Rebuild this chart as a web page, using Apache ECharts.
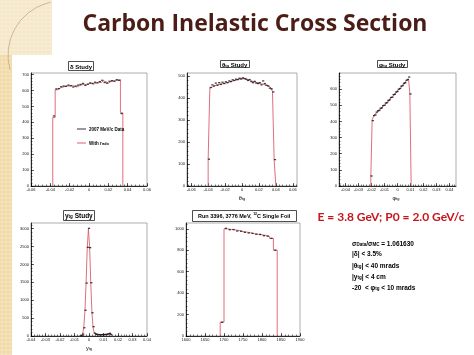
<!DOCTYPE html>
<html><head><meta charset="utf-8">
<script src="https://cdn.jsdelivr.net/npm/echarts@6/dist/echarts.min.js"></script>
<style>html,body{margin:0;padding:0;background:#fff;}#c{width:474px;height:355px;}</style>
</head><body><div id="c"></div>
<script>
// ---------------- data ----------------
const deltaStart = -0.0375, deltaBin = 0.0025;
const deltaMC   = [430, 605,615,620,625,630,628,632,626,622,630,635,640,636,642,645,640,648,652,650,660,655,648,655,660,662,665,668, 460];
const deltaData = [440, 610,612,624,628,626,634,630,622,628,634,638,644,632,640,648,644,652,648,656,664,650,646,658,662,658,668,664, 455];

const thetaStart = -0.04, thetaBin = 0.002;
const thetaMC   = [120, 445,452,458,460,462,463,465,466,468,470,472,474,476,479,481,483,485,487,488,488,487,485,482,480,477,474,472,470,468,466,464,462,460,457,453,448,440,430, 118];
const thetaData = [122, 448,460,455,468,458,470,462,472,466,474,470,478,475,483,480,486,484,490,487,492,489,486,480,484,475,470,476,468,466,470,460,478,466,458,455,445,442,428, 120];

const phiStart = -0.0205, phiBin = 0.001;
const phiMC   = [60, 410,430,445,455,462,470,478,486,494,502,510,518,527,536,545,553,562,570,579,588,597,606,615,624,633,642,651,662,672, 575];
const phiData = [62, 405,436,440,458,466,468,482,484,498,500,514,516,530,534,548,550,566,568,582,586,600,604,618,622,636,640,655,660,675, 570];

const ytgStart = -0.0068, ytgBin = 0.0008;
const ytgMC   = [0,2,15,60,240,700,1500,2470,2990,2520,1520,680,230,90,55,45,40,38,35,35,40,38,42,45,50,60,80,40,0];
const ytgData = [0,4,20,55,230,720,1480,2480,3010,2470,1490,650,260,80,50,48,36,40,30,38,42,35,45,40,55,58,75,45,0];

const runStart = 1690, runBin = 10;
const runMC   = [130, 1000,995,990,985,975,970,965,955,950,945,940,930,910, 800];
const runData = [128, 1005,992,994,980,978,968,962,958,950,948,936,932,912, 802];

const deltaXTicks = [-0.06,-0.04,-0.02,0,0.02,0.04,0.06];
const deltaYTicks = [0,100,200,300,400,500,600,700];
const thetaXTicks = [-0.06,-0.04,-0.02,0,0.02,0.04,0.06];
const thetaYTicks = [0,100,200,300,400,500];
const phiXTicks   = [-0.04,-0.03,-0.02,-0.01,0,0.01,0.02,0.03,0.04];
const phiYTicks   = [0,100,200,300,400,500,600];
const ytgXTicks   = [-0.04,-0.03,-0.02,-0.01,0,0.01,0.02,0.03,0.04];
const ytgYTicks   = [0,500,1000,1500,2000,2500,3000];
const runXTicks   = [1600,1650,1700,1750,1800,1850,1900];
const runYTicks   = [0,200,400,600,800,1000];

// ---------------- layout ----------------
const panels = [
  {d:{start:deltaStart,w:deltaBin,mc:deltaMC,data:deltaData,xt:deltaXTicks,yt:deltaYTicks},
   g:{left:31,top:73,width:116,height:113}, xMin:-0.06, xMax:0.06, yMax:710, xMinor:0.004, yMinor:20},
  {d:{start:thetaStart,w:thetaBin,mc:thetaMC,data:thetaData,xt:thetaXTicks,yt:thetaYTicks},
   g:{left:187,top:73,width:110,height:113}, xMin:-0.065, xMax:0.065, yMax:514, xMinor:0.004, yMinor:20},
  {d:{start:phiStart,w:phiBin,mc:phiMC,data:phiData,xt:phiXTicks,yt:phiYTicks},
   g:{left:339,top:73,width:117,height:113}, xMin:-0.045, xMax:0.045, yMax:700, xMinor:0.002, yMinor:20},
  {d:{start:ytgStart,w:ytgBin,mc:ytgMC,data:ytgData,xt:ytgXTicks,yt:ytgYTicks},
   g:{left:31,top:223,width:116,height:113}, xMin:-0.04, xMax:0.04, yMax:3160, xMinor:0.002, yMinor:100},
  {d:{start:runStart,w:runBin,mc:runMC,data:runData,xt:runXTicks,yt:runYTicks},
   g:{left:186,top:223,width:114,height:113}, xMin:1600, xMax:1900, yMax:1055, xMinor:10, yMinor:40}
];

function histPoints(start, w, vals){
  const p = [[start, 0]];
  vals.forEach((v,i)=>p.push([start + i*w, v]));
  p.push([start + vals.length*w, 0]);
  return p;
}
function dataPoints(start, w, vals){
  return vals.map((v,i)=>[start + (i+0.5)*w, v]).filter(d=>d[1] > 0);
}
function minors(min, max, step){
  const a = [];
  for (let k = Math.ceil(min/step - 1e-9); k*step <= max + 1e-9; k++) a.push(+(k*step).toFixed(6));
  return a;
}

const FONT = 'Liberation Sans';
const RED = '#d9606c';
const grid = [], xAxis = [], yAxis = [], series = [];
panels.forEach((p, i) => {
  grid.push(Object.assign({show:true, borderColor:'#8a8a8a', borderWidth:0.7}, p.g));
  const lbl = {show:true, fontSize:4, color:'#111', fontFamily:FONT, margin:2, hideOverlap:false, showMinLabel:true, showMaxLabel:true, formatter:v=>String(v)};
  xAxis.push({type:'value', gridIndex:i, min:p.xMin, max:p.xMax, position:'bottom',
    axisLine:{show:true, onZero:false, lineStyle:{color:'#000', width:0.8}},
    axisTick:{show:true, inside:true, length:3, customValues:p.d.xt, lineStyle:{color:'#000', width:0.6}},
    axisLabel:Object.assign({customValues:p.d.xt}, lbl), splitLine:{show:false}});
  xAxis.push({type:'value', gridIndex:i, min:p.xMin, max:p.xMax, position:'bottom',
    axisLine:{show:false, onZero:false}, axisLabel:{show:false}, splitLine:{show:false},
    axisTick:{show:true, inside:true, length:1.5, customValues:minors(p.xMin,p.xMax,p.xMinor), lineStyle:{color:'#000', width:0.5}}});
  yAxis.push({type:'value', gridIndex:i, min:0, max:p.yMax, position:'left',
    axisLine:{show:true, onZero:false, lineStyle:{color:'#000', width:0.8}},
    axisTick:{show:true, inside:true, length:3, customValues:p.d.yt, lineStyle:{color:'#000', width:0.6}},
    axisLabel:Object.assign({customValues:p.d.yt}, lbl), splitLine:{show:false}});
  yAxis.push({type:'value', gridIndex:i, min:0, max:p.yMax, position:'left',
    axisLine:{show:false, onZero:false}, axisLabel:{show:false}, splitLine:{show:false},
    axisTick:{show:true, inside:true, length:1.5, customValues:minors(0,p.yMax,p.yMinor), lineStyle:{color:'#000', width:0.5}}});
  series.push({type:'line', name: i===0 ? 'With r' : 'mc'+i, xAxisIndex:2*i, yAxisIndex:2*i,
    data:histPoints(p.d.start, p.d.w, p.d.mc), step:'end', symbol:'none', silent:true,
    lineStyle:{color:RED, width:0.9}, itemStyle:{color:RED}, z:2});
  series.push({type:'scatter', name: i===0 ? '2007 MeV/c Data' : 'data'+i, xAxisIndex:2*i, yAxisIndex:2*i,
    data:dataPoints(p.d.start, p.d.w, p.d.data), symbol:'rect', symbolSize:[2.2,1.3], silent:true,
    itemStyle:{color:'#111'}, z:3});
});

const padTitle = (text, left, top, fs, pad) => ({
  text, left, top, padding:pad, backgroundColor:'#fff', borderColor:'#222', borderWidth:0.8,
  textStyle:{fontSize:fs, fontWeight:'bold', fontFamily:FONT, color:'#000', lineHeight:fs+2,
    rich:{m:{fontSize:fs, fontWeight:'bold', fontFamily:FONT, color:'#000', lineHeight:fs+2, verticalAlign:'bottom'},
          s:{fontSize:fs-2, fontWeight:'bold', fontFamily:FONT, color:'#000', verticalAlign:'bottom', lineHeight:fs+2, padding:[2,0,0,0]},
          p:{fontSize:fs-2, fontWeight:'bold', fontFamily:FONT, color:'#000', verticalAlign:'top', lineHeight:fs+2}}}
});

// background decoration
const deco = [];
deco.push({type:'rect', shape:{x:0,y:0,width:12,height:355}, style:{fill:'#f1d9a6'}, silent:true, z:-10});
deco.push({type:'rect', shape:{x:0,y:0,width:52,height:55}, style:{fill:'#f5e6c6'}, silent:true, z:-10});
for (let y = 2; y < 355; y += 4) deco.push({type:'line', shape:{x1:0,y1:y,x2:(y<55?52:12),y2:y}, style:{stroke:'rgba(255,255,255,0.55)', lineWidth:0.6}, silent:true, z:-9});
for (let x = 2; x < 52; x += 4) deco.push({type:'line', shape:{x1:x,y1:0,x2:x,y2:(x<12?355:55)}, style:{stroke:'rgba(255,255,255,0.45)', lineWidth:0.6}, silent:true, z:-9});
deco.push({type:'arc', shape:{cx:62, cy:55, r:54, startAngle:2.86, endAngle:4.5, clockwise:true}, style:{stroke:'#c4ab80', lineWidth:0.8, fill:null}, silent:true, z:-8});

const sub = {n:{fontSize:6.5, fontWeight:'bold', fontFamily:FONT, lineHeight:9, verticalAlign:'bottom'},
             s:{fontSize:4.5, fontWeight:'bold', fontFamily:FONT, lineHeight:9, verticalAlign:'bottom', padding:[3,0,0,0]}};
const axisSub = {n:{fontSize:5.5, fontFamily:FONT, lineHeight:8, verticalAlign:'bottom'},
                 s:{fontSize:4, fontFamily:FONT, lineHeight:8, verticalAlign:'bottom', padding:[3,0,0,0]}};
const textEl = (x, y, text, rich, align) => ({type:'text', x, y, silent:true,
  style:{text, rich, fill:'#000', align:align||'left', verticalAlign:'middle', fontFamily:FONT}});

const graphic = deco.concat([
  {type:'text', x:255, y:24, silent:true, style:{text:'Carbon Inelastic Cross Section', font:'bold 23px "Open Sans"', fill:'#4b1d16', align:'center', verticalAlign:'middle'}},
  {type:'text', x:391, y:217, silent:true, style:{text:'E = 3.8 GeV; P0 = 2.0 GeV/c', font:'bold 12px Lato', fill:'#c4161c', align:'center', verticalAlign:'middle'}},
  textEl(352, 243, '{n|σ}{s|Data}{n|/σ}{s|MC}{n| = 1.061630}', sub),
  textEl(352, 253, '{n||δ| < 3.5%}', sub),
  textEl(352, 265, '{n||θ}{s|tg}{n|| < 40 mrads}', sub),
  textEl(352, 276, '{n||y}{s|tg}{n|| < 4 cm}', sub),
  textEl(352, 287, '{n|-20  < φ}{s|tg}{n| < 10 mrads}', sub),
  textEl(242, 197, '{n|θ}{s|tg}', axisSub, 'center'),
  textEl(396, 197, '{n|φ}{s|tg}', axisSub, 'center'),
  textEl(89, 347, '{n|y}{s|tg}', axisSub, 'center')
]);

const option = {
  animation:false,
  backgroundColor:'#fff',
  grid, xAxis, yAxis, series, graphic,
  title:[
    padTitle('{m|δ Study}', 68, 61, 6, [1,2]),
    padTitle('{m|θ}{s|tg}{m| Study}', 220, 60, 6, [0,2]),
    padTitle('{m|φ}{s|tg}{m| Study}', 377, 60, 6, [0,2]),
    padTitle('{m|y}{s|tg}{m| Study}', 63, 210, 6.5, [1,2]),
    padTitle('{m|Run 3396, 3776 MeV, }{p|12}{m|C Single Foil}', 192, 210, 5.5, [2,6])
  ],
  legend:{orient:'vertical', left:72, top:122, itemWidth:9, itemHeight:1, itemGap:9, selectedMode:false,
    data:[{name:'2007 MeV/c Data', icon:'rect', itemStyle:{color:'#000'}},
          {name:'With r', icon:'rect', itemStyle:{color:RED}}],
    formatter: n => n === 'With r' ? '{a|With r}{b|radia}' : '{a|' + n + '}',
    textStyle:{fontSize:4.5, fontWeight:'bold', fontFamily:FONT, color:'#000', padding:[0,0,0,-2],
      rich:{a:{fontSize:4.5, fontWeight:'bold', fontFamily:FONT, lineHeight:6, verticalAlign:'bottom'},
            b:{fontSize:3, fontWeight:'bold', fontFamily:FONT, lineHeight:6, verticalAlign:'bottom', padding:[2,0,0,0]}}}}
};
const chart = echarts.init(document.getElementById('c'), null, {renderer:'canvas'});
chart.setOption(option);
</script></body></html>
